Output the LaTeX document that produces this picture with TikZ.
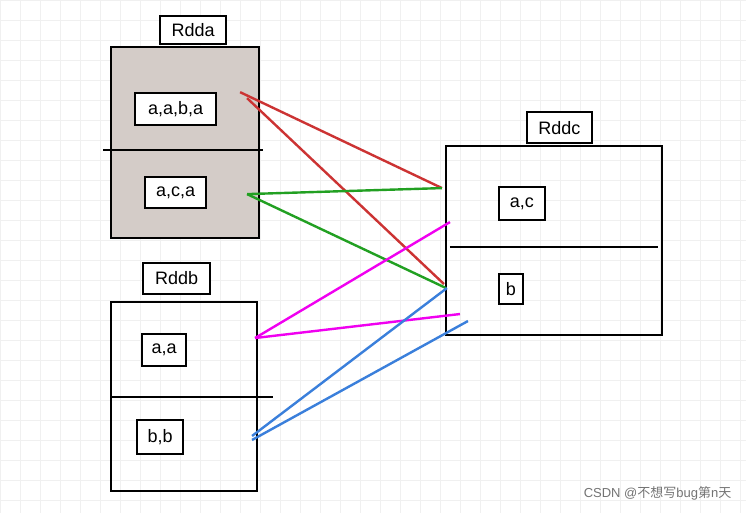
\documentclass[tikz,border=0pt]{standalone}
\usepackage{fontspec}
\setmainfont{Liberation Sans}
\newfontfamily\cjk{Noto Sans CJK SC}
\begin{document}
\begin{tikzpicture}[x=1pt,y=-1pt,
  lab/.style={draw,line width=1.6pt,fill=white,inner sep=0pt,minimum height=28pt,font=\fontsize{18}{18}\selectfont},
  frame/.style={draw,line width=1.6pt},
  div/.style={line width=2.6pt},
  wire/.style={line width=2.4pt}]
\fill[white] (0,0) rectangle (746,513);
\foreach \i in {0,20,...,740} \draw[black!6] (\i,0) -- (\i,513);
\foreach \j in {0,20,...,510} \draw[black!6] (0,\j) -- (746,\j);
\useasboundingbox (0,0) rectangle (746,513);
\definecolor{rd}{HTML}{CC3333}\definecolor{gr}{HTML}{22A022}
\definecolor{mg}{HTML}{F000F0}\definecolor{bl}{HTML}{3A7FDB}
% Rdda
\filldraw[frame,fill={rgb,255:red,212;green,204;blue,200}] (111,47) rectangle (259,238);
\draw[div] (103,150) -- (263,150);
\node[lab,minimum width=66pt] (la) at (193,30) {Rdda};
\node[lab,minimum width=81pt,minimum height=32pt] (aaba) at (175.5,109) {a,a,b,a};
\node[lab,minimum width=61pt,minimum height=31pt] (aca) at (175.5,192.5) {a,c,a};
% Rddb
\draw[frame] (111,302) rectangle (257,491);
\draw[div] (111,397) -- (273,397);
\node[lab,minimum width=67pt,minimum height=31pt] (lb) at (176.5,278.5) {Rddb};
\node[lab,minimum width=44pt,minimum height=32pt] (aa) at (164,350) {a,a};
\node[lab,minimum width=46pt,minimum height=34pt] (bb) at (160,437) {b,b};
% Rddc
\draw[frame] (446,146) rectangle (662,335);
\draw[div] (450,247) -- (658,247);
\node[lab,minimum width=65pt,minimum height=31pt] (lc) at (559.5,127.5) {Rddc};
\node[lab,minimum width=46pt,minimum height=33pt] (ac) at (522,203.5) {a,c};
\node[lab,minimum width=24pt,minimum height=30pt] (b) at (511,289) {b};
% wires
\coordinate (r1) at (240,92); \coordinate (r2) at (247,98);
\coordinate (g0) at (247,194);
\coordinate (m0) at (255,338);
\coordinate (b1) at (252,436); \coordinate (b2) at (252,440);
\coordinate (c1) at (442,188); \coordinate (c2) at (444,284);
\coordinate (c3) at (446,288); \coordinate (c4) at (450,222);
\coordinate (c5) at (460,314); \coordinate (c6) at (447,288);
\coordinate (c7) at (468,321);
\draw[wire,rd] (r1) -- (c1); \draw[wire,rd] (r2) -- (c2);
\draw[wire,gr] (g0) -- (c1); \draw[wire,gr] (g0) -- (c3);
\draw[wire,mg] (m0) -- (c4); \draw[wire,mg] (m0) -- (c5);
\draw[wire,bl] (b1) -- (c6); \draw[wire,bl] (b2) -- (c7);
\node[anchor=east,text=black!55,font=\fontsize{13}{13}\selectfont] (wm) at (735,493) {CSDN @{\cjk 不想写}bug{\cjk 第}n{\cjk 天}};
\end{tikzpicture}
\end{document}
